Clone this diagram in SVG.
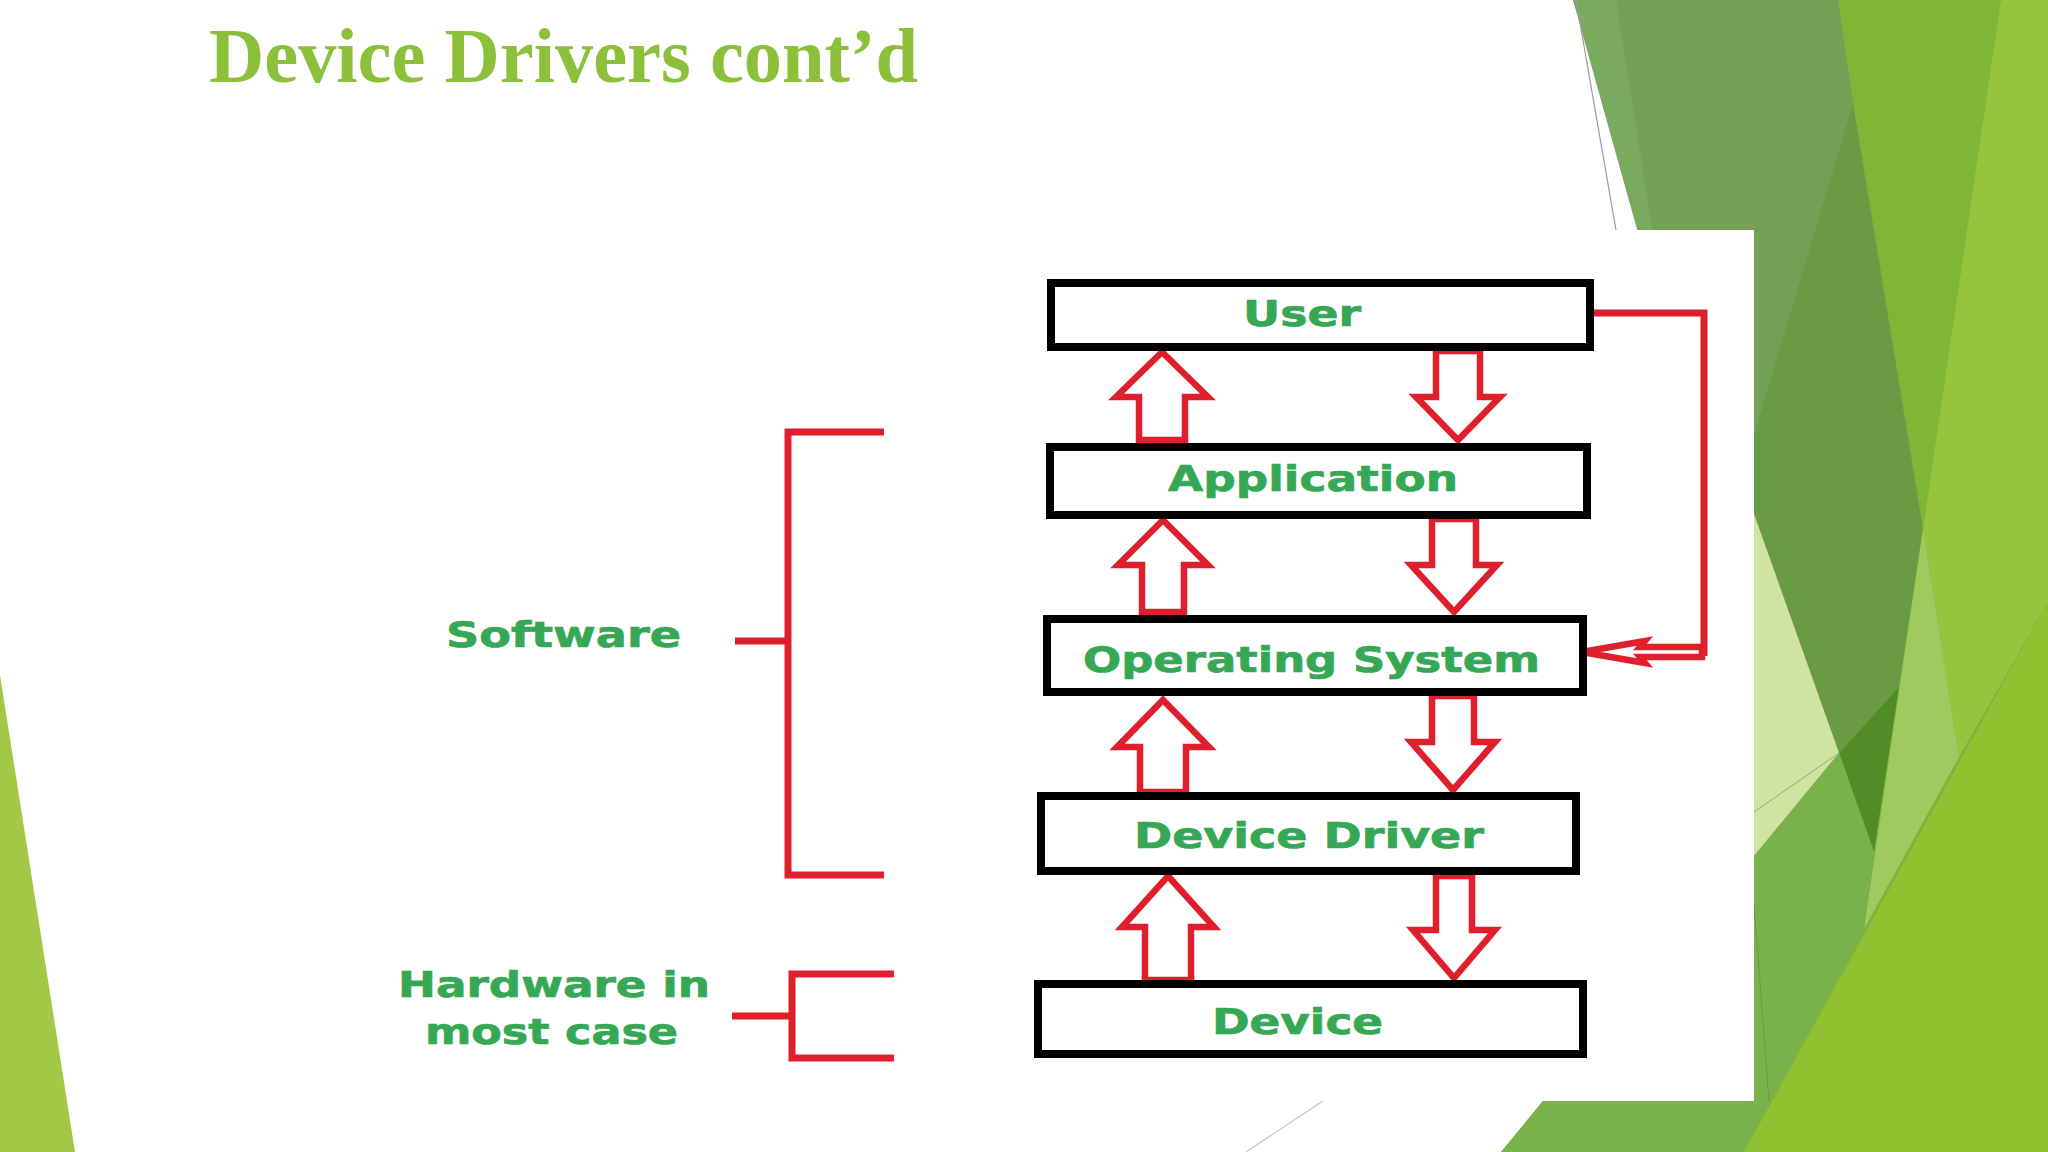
<svg xmlns="http://www.w3.org/2000/svg" width="2048" height="1152" viewBox="0 0 2048 1152">
<style>
.box{fill:#ffffff;stroke:#000000;stroke-width:8}
.lbl{font-family:"DejaVu Sans","Verdana",sans-serif;font-weight:bold;font-size:35px;fill:#36a855;stroke:#36a855;stroke-width:0.7}
.arrow{fill:#ffffff;stroke:#e01f2d;stroke-width:6.5;stroke-linejoin:miter}
.line{fill:none;stroke:#e01f2d;stroke-width:7;stroke-linejoin:miter}
.title{font-family:"Liberation Serif","Times New Roman",serif;font-weight:bold;font-size:78px;fill:#8dc03a}
</style>
<rect x="0" y="0" width="2048" height="1152" fill="#ffffff"/>
<g id="background">
<polygon points="0,675 75,1152 0,1152" fill="#a2c846"/>
<polygon points="1573,0 2048,0 2048,1152 1501,1152 1543,1101 1754,1101 1754,230 1651,230" fill="#7fb33e"/>
<polygon points="1573,0 1838,0 1853,103 1754,434 1754,240 1654,240" fill="#74a055"/>
<polygon points="1573,0 1616,0 1654,240 1640,240" fill="#7aaa5e"/>
<polygon points="1838,0 2001,0 1923,529" fill="#80b535"/>
<polygon points="2001,0 2048,0 2048,602 1959,757 1923,529" fill="#97c43f"/>
<polygon points="1853,103 1923,529 1899,687 1839,753 1754,514 1754,434" fill="#6b9a45"/>
<polygon points="1754,514 1839,753 1754,856" fill="#cfe4a1"/>
<polygon points="1839,753 1899,687 1874,852" fill="#528c26"/>
<polygon points="1923,529 1959,757 1864,929" fill="#a0ca5f"/>
<polygon points="1754,856 1839,753 1874,852 1864,929 1744,1152 1501,1152 1543,1101 1754,1101" fill="#79b24b"/>
<polygon points="2048,602 2048,1152 1744,1152" fill="#90c131"/>
<line x1="1754" y1="812" x2="1839" y2="753" stroke="#8fb070" stroke-width="1"/>
<line x1="1754" y1="904" x2="1769" y2="1101" stroke="#6a9a45" stroke-width="1"/>
<line x1="1576" y1="0" x2="1616" y2="230" stroke="#9a9a9a" stroke-width="1.2"/>
<line x1="1323" y1="1101" x2="1246" y2="1152" stroke="#c4c4c4" stroke-width="1.2"/>
<rect x="400" y="230" width="1354" height="871" fill="#ffffff"/>
</g>
<text class="title" x="209" y="82" textLength="709" lengthAdjust="spacingAndGlyphs">Device Drivers cont’d</text>
<g id="connectors">
<path class="arrow" d="M1162,352 L1208,397 L1185,397 L1185,440 L1139,440 L1139,397 L1116,397 Z"/>
<path class="arrow" d="M1436,351 L1480,351 L1480,397 L1500,397 L1458,440 L1416,397 L1436,397 Z"/>
<path class="arrow" d="M1163,520 L1208,565 L1184,565 L1184,612 L1142,612 L1142,565 L1118,565 Z"/>
<path class="arrow" d="M1432,519 L1476,519 L1476,565 L1497,565 L1454,612 L1411,565 L1432,565 Z"/>
<path class="arrow" d="M1163,700 L1209,747 L1186,747 L1186,792 L1140,792 L1140,747 L1117,747 Z"/>
<path class="arrow" d="M1432,696 L1474,696 L1474,742 L1495,742 L1453,790 L1411,742 L1432,742 Z"/>
<path class="arrow" d="M1168,876 L1214,927 L1191,927 L1191,980 L1145,980 L1145,927 L1122,927 Z"/>
<path class="arrow" d="M1436,876 L1472,876 L1472,930 L1495,930 L1454,978 L1413,930 L1436,930 Z"/>
<path class="line" d="M1594,313 H1704 V656"/>
<polygon class="arrow" stroke-width="5" points="1582,652 1645,641 1640,647 1702,647 1702,657 1640,657 1645,663"/>
<path class="line" d="M884,432 H788 V875 H884 M735,641 H788"/>
<path class="line" d="M894,974 H792 V1058 H894 M732,1016 H792"/>
</g>
<g id="node-user">
<rect class="box" x="1051" y="283" width="539" height="64"/>
<text class="lbl" x="1243" y="326" textLength="118" lengthAdjust="spacingAndGlyphs">User</text>
</g>
<g id="node-application">
<rect class="box" x="1050" y="447" width="537" height="68"/>
<text class="lbl" x="1168" y="491" textLength="290" lengthAdjust="spacingAndGlyphs">Application</text>
</g>
<g id="node-os">
<rect class="box" x="1047" y="619" width="536" height="73"/>
<text class="lbl" x="1083" y="672" textLength="457" lengthAdjust="spacingAndGlyphs">Operating System</text>
</g>
<g id="node-driver">
<rect class="box" x="1041" y="796" width="535" height="75"/>
<text class="lbl" x="1134" y="848" textLength="350" lengthAdjust="spacingAndGlyphs">Device Driver</text>
</g>
<g id="node-device">
<rect class="box" x="1038" y="984" width="545" height="70"/>
<text class="lbl" x="1212" y="1034" textLength="171" lengthAdjust="spacingAndGlyphs">Device</text>
</g>
<g id="label-software">
<text class="lbl" x="446" y="647" textLength="235" lengthAdjust="spacingAndGlyphs">Software</text>
</g>
<g id="label-hardware">
<text class="lbl" x="398" y="997" textLength="312" lengthAdjust="spacingAndGlyphs">Hardware in</text>
<text class="lbl" x="425" y="1044" textLength="253" lengthAdjust="spacingAndGlyphs">most case</text>
</g>
</svg>
